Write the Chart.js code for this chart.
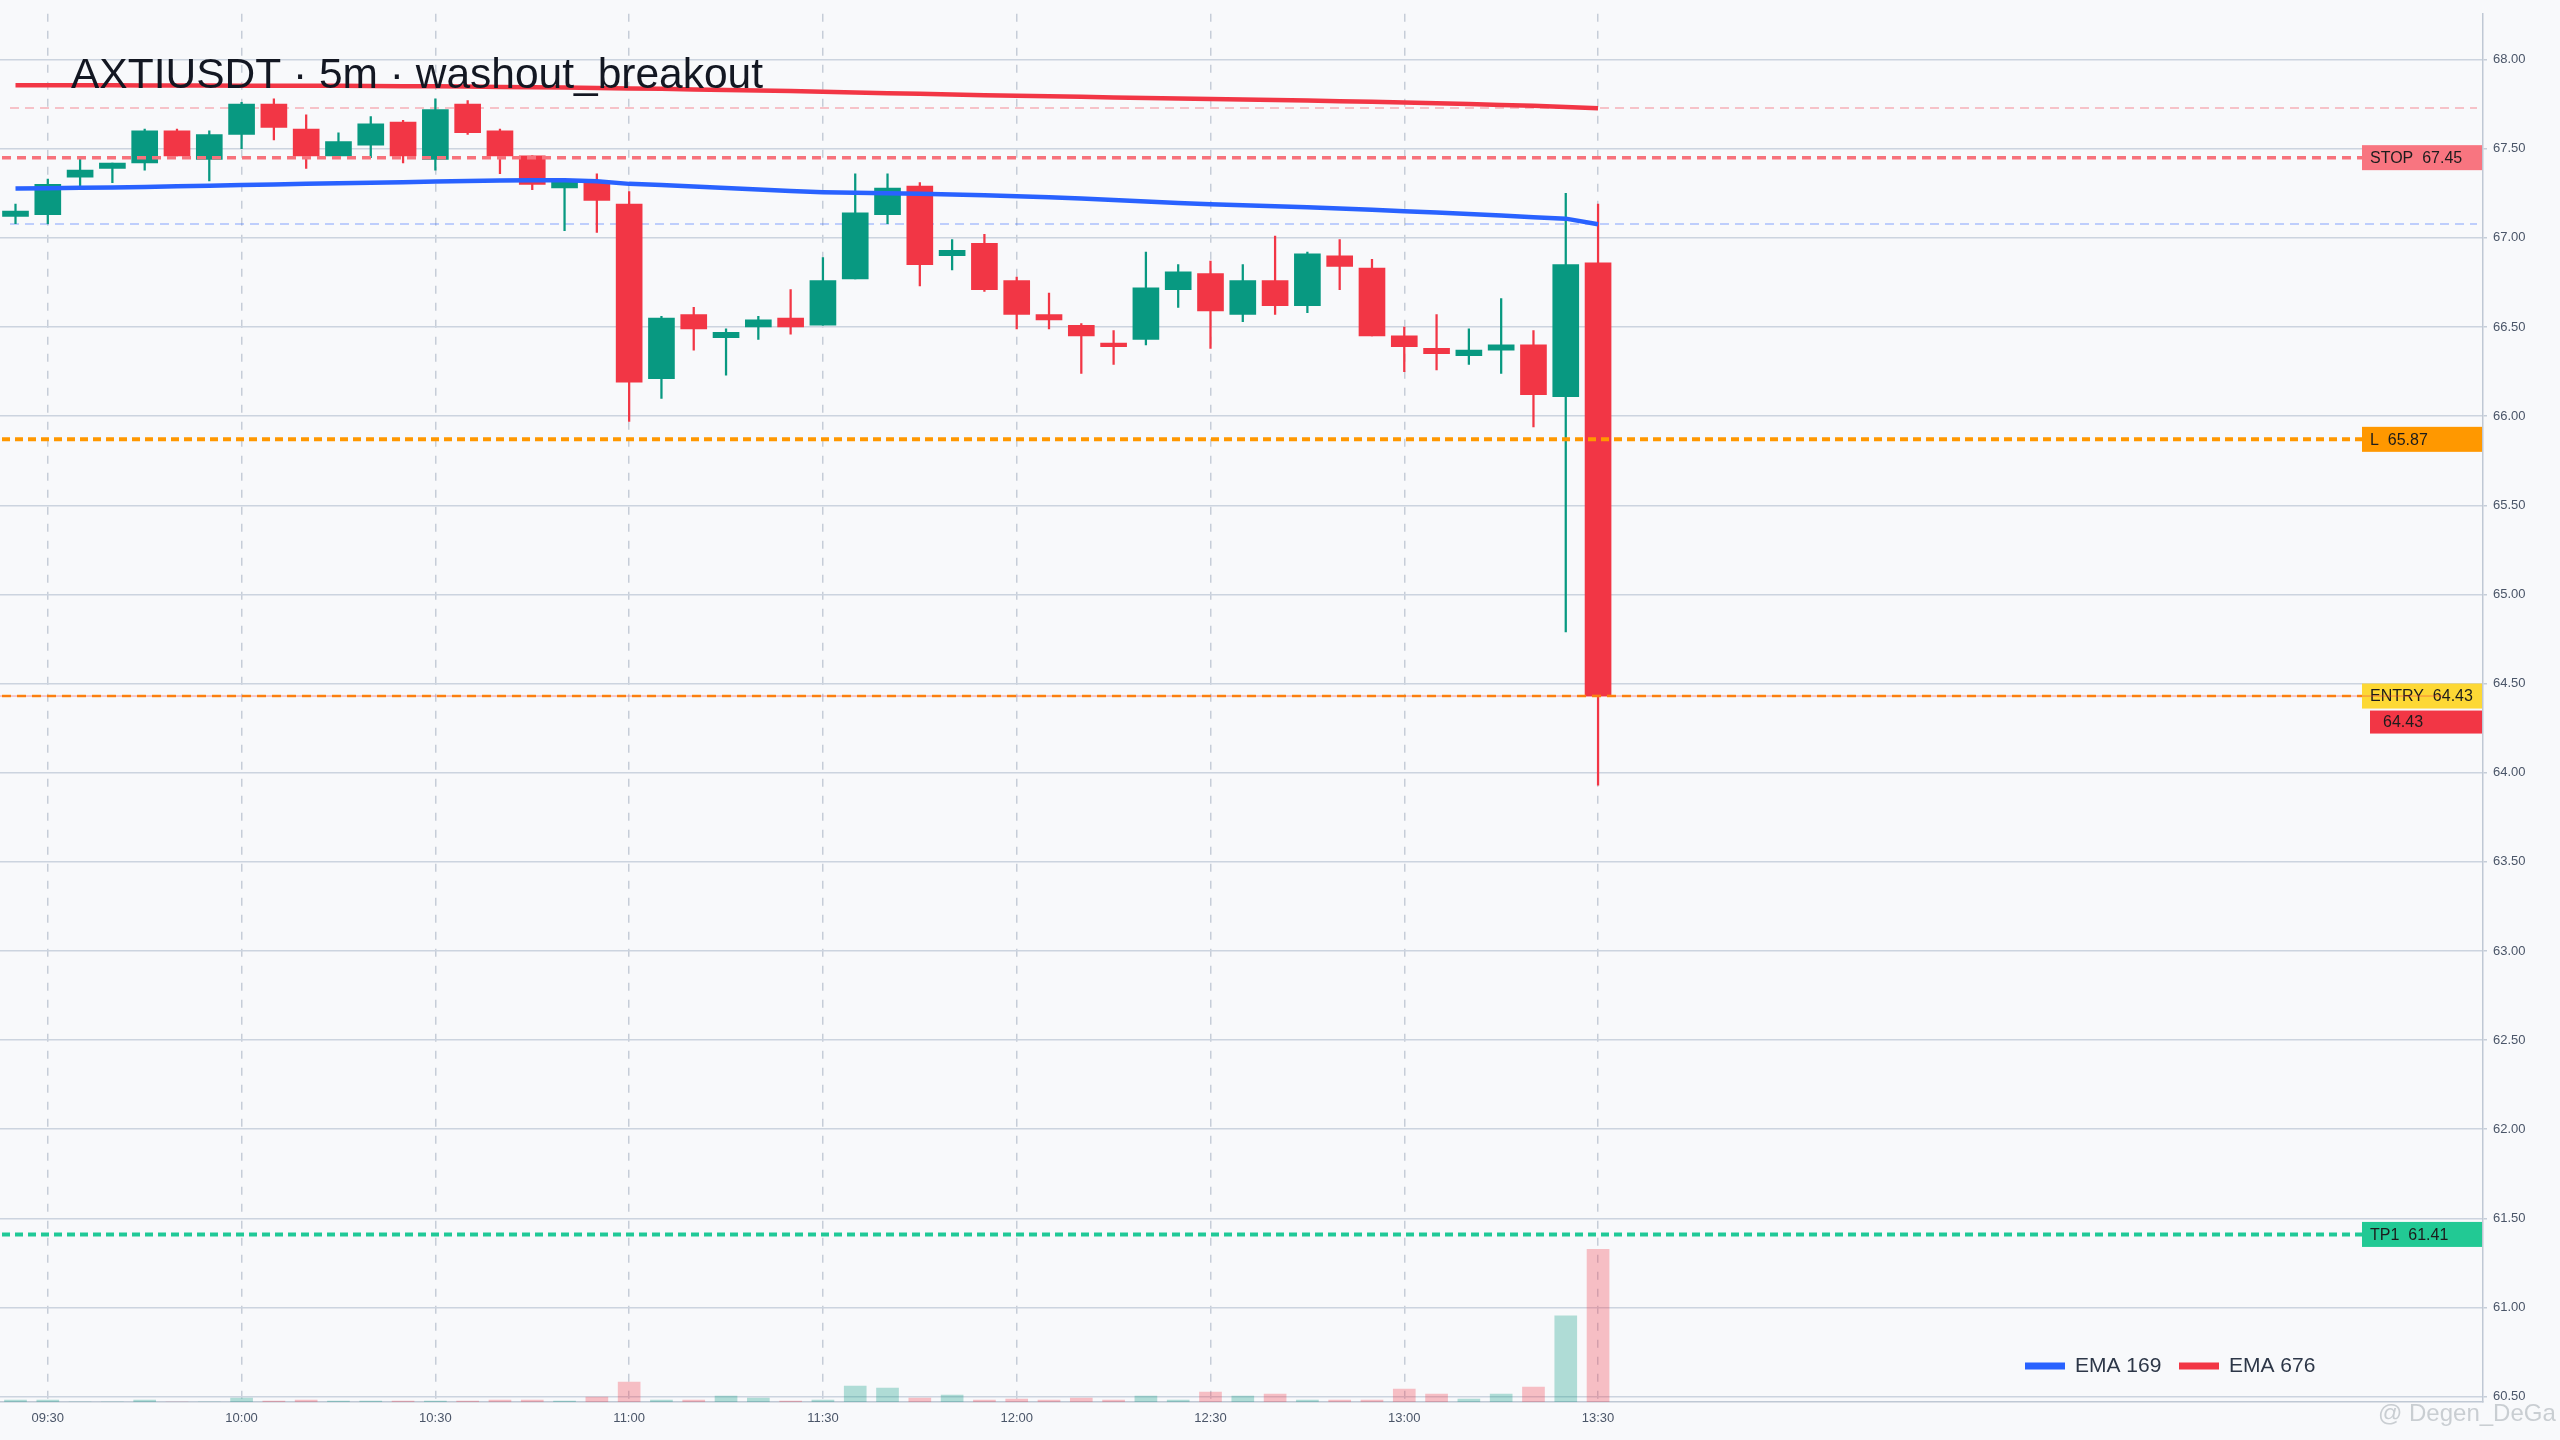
<!DOCTYPE html>
<html>
<head>
<meta charset="utf-8">
<title>AXTIUSDT · 5m · washout_breakout</title>
<script src="https://cdn.jsdelivr.net/npm/chart.js@4.4.1/dist/chart.umd.min.js"></script>
<style>
  html, body { margin: 0; padding: 0; background: #f8f9fb; }
  #wrap { position: relative; width: 2560px; height: 1440px; }
</style>
</head>
<body>
<div id="wrap"><canvas id="grafico"></canvas></div>
<script>
// velas de 5 minutos, 09:25 -> 13:30
const times = ['09:25','09:30','09:35','09:40','09:45','09:50','09:55','10:00','10:05','10:10',
  '10:15','10:20','10:25','10:30','10:35','10:40','10:45','10:50','10:55','11:00',
  '11:05','11:10','11:15','11:20','11:25','11:30','11:35','11:40','11:45','11:50',
  '11:55','12:00','12:05','12:10','12:15','12:20','12:25','12:30','12:35','12:40',
  '12:45','12:50','12:55','13:00','13:05','13:10','13:15','13:20','13:25','13:30'];

const opens = [67.12,67.13,67.34,67.39,67.42,67.60,67.44,67.58,67.75,67.61,
  67.46,67.52,67.65,67.44,67.75,67.60,67.46,67.28,67.31,67.19,
  66.21,66.57,66.44,66.50,66.55,66.51,66.77,67.13,67.29,66.90,
  66.97,66.76,66.57,66.51,66.41,66.43,66.71,66.80,66.57,66.76,
  66.62,66.90,66.83,66.45,66.38,66.34,66.37,66.40,66.11,66.86];
const highs = [67.19,67.33,67.44,67.42,67.61,67.61,67.60,67.76,67.78,67.69,
  67.59,67.68,67.66,67.78,67.77,67.61,67.46,67.33,67.36,67.26,
  66.56,66.61,66.49,66.56,66.71,66.89,67.36,67.36,67.31,66.99,
  67.02,66.78,66.69,66.52,66.48,66.92,66.85,66.87,66.85,67.01,
  66.92,66.99,66.88,66.50,66.57,66.49,66.66,66.48,67.25,67.19];
const lows = [67.08,67.08,67.29,67.31,67.38,67.46,67.32,67.50,67.55,67.39,
  67.46,67.45,67.42,67.38,67.58,67.36,67.27,67.04,67.03,65.97,
  66.10,66.37,66.23,66.43,66.46,66.51,66.77,67.08,66.73,66.82,
  66.70,66.49,66.49,66.24,66.29,66.40,66.61,66.38,66.53,66.57,
  66.58,66.71,66.45,66.25,66.26,66.29,66.24,65.94,64.79,63.93];
const closes = [67.15,67.30,67.38,67.42,67.60,67.46,67.58,67.75,67.62,67.46,
  67.54,67.64,67.46,67.72,67.59,67.46,67.30,67.32,67.21,66.19,
  66.55,66.49,66.47,66.54,66.50,66.76,67.14,67.28,66.85,66.93,
  66.71,66.57,66.54,66.45,66.39,66.72,66.81,66.59,66.76,66.62,
  66.91,66.84,66.45,66.39,66.35,66.37,66.40,66.12,66.85,64.43];
const volumes = [2,2,0,0,2,0,0,4,1,2,
  1,1,1,1,1,2,2,1,5,20,
  2,2,6,4,1,2,16,14,4,7,
  2,3,2,4,2,6,2,10,6,8,
  2,2,2,13,8,3,8,15,87,154];

const ema169 = [67.277,67.279,67.281,67.283,67.286,67.289,67.292,67.296,67.300,67.303,
  67.306,67.309,67.312,67.316,67.319,67.322,67.323,67.323,67.318,67.303,
  67.296,67.288,67.280,67.272,67.263,67.256,67.253,67.250,67.247,67.243,
  67.239,67.234,67.228,67.221,67.213,67.204,67.196,67.189,67.183,67.177,
  67.172,67.165,67.158,67.150,67.142,67.134,67.125,67.116,67.108,67.076];
const ema676 = [67.856,67.856,67.856,67.856,67.855,67.855,67.855,67.854,67.854,67.853,
  67.853,67.852,67.851,67.850,67.849,67.847,67.845,67.843,67.841,67.838,
  67.836,67.833,67.830,67.827,67.824,67.820,67.816,67.812,67.808,67.804,
  67.800,67.797,67.794,67.791,67.788,67.785,67.782,67.779,67.776,67.773,
  67.770,67.767,67.763,67.759,67.755,67.751,67.746,67.741,67.734,67.727];

const yTicks = [60.5,61.0,61.5,62.0,62.5,63.0,63.5,64.0,64.5,65.0,65.5,66.0,66.5,67.0,67.5,68.0];
const xTickIdx = [1,7,13,19,25,31,37,43,49];

const levelNames = ['STOP','L','ENTRY','TP1'];
const levelValues = [67.45, 65.87, 64.43, 61.41];

const titulo = 'AXTIUSDT · 5m · washout_breakout';
const lastPrice = closes[closes.length - 1];

// estilos
const VERDE = '#089981', ROJO = '#F23645';
const levelStyle = {
  STOP:  { line: '#f7727c', box: '#f87580', width: 3.5, dash: [9, 6] },
  L:     { line: '#ff9800', box: '#ff9800', width: 4, dash: [8, 5] },
  ENTRY: { line: '#ff9800', box: '#fdd835', width: 2.5, dash: [9, 6] },
  TP1:   { line: '#20c997', box: '#22c994', width: 4, dash: [8, 5] }
};
const SANS = "'Liberation Sans', Arial, sans-serif";

const colorVela = opens.map((o, i) => closes[i] >= o ? VERDE : ROJO);
const colorVol = opens.map((o, i) => closes[i] >= o ? 'rgba(8,153,129,0.3)' : 'rgba(242,54,69,0.3)');

const overlay = {
  id: 'overlay',
  beforeDatasetsDraw(chart) {
    const { ctx, chartArea: a, scales: { y } } = chart;
    ctx.save();
    ctx.lineWidth = 2;
    ctx.setLineDash([9, 6]);
    [[ema676, 'rgba(242,54,69,0.28)'], [ema169, 'rgba(41,98,255,0.28)']].forEach(([arr, col]) => {
      const py = Math.round(y.getPixelForValue(arr[arr.length - 1]));
      ctx.strokeStyle = col;
      ctx.beginPath(); ctx.moveTo(a.left + 10, py); ctx.lineTo(a.right - 6, py); ctx.stroke();
    });
    ctx.restore();
  },
  afterDatasetsDraw(chart) {
    const { ctx, chartArea: a, scales: { y } } = chart;
    const boxL = a.right - 121;
    ctx.save();
    levelNames.forEach((n, k) => {
      const st = levelStyle[n];
      const py = y.getPixelForValue(levelValues[k]);
      ctx.strokeStyle = st.line; ctx.lineWidth = st.width; ctx.setLineDash(st.dash);
      ctx.beginPath(); ctx.moveTo(a.left + 2, py); ctx.lineTo(boxL, py); ctx.stroke();
    });
    ctx.setLineDash([]);
    ctx.font = '16px ' + SANS;
    ctx.textBaseline = 'middle';
    let entryBottom = 0;
    levelNames.forEach((n, k) => {
      const st = levelStyle[n];
      const py = y.getPixelForValue(levelValues[k]);
      ctx.fillStyle = st.box;
      ctx.fillRect(boxL, py - 12.5, a.right - 1 - boxL, 25);
      ctx.fillStyle = '#1c1c1c';
      ctx.fillText(n + '  ' + levelValues[k].toFixed(2), boxL + 8, py + 1);
      if (n === 'ENTRY') entryBottom = py + 12.5;
    });
    // precio actual
    const pl = a.right - 113;
    ctx.fillStyle = ROJO;
    ctx.fillRect(pl, entryBottom + 2, a.right - 1 - pl, 23);
    ctx.fillStyle = '#1c1c1c';
    ctx.fillText(lastPrice.toFixed(2), pl + 13, entryBottom + 14.5);
    const lp = y.getPixelForValue(lastPrice);
    ctx.strokeStyle = 'rgba(242,54,69,0.5)'; ctx.lineWidth = 1;
    ctx.beginPath(); ctx.moveTo(a.left, lp); ctx.lineTo(a.right - 40, lp); ctx.stroke();
    ctx.restore();
  },
  afterDraw(chart) {
    const { ctx } = chart;
    ctx.save();
    ctx.fillStyle = '#131722';
    ctx.font = '42.5px ' + SANS;
    ctx.textBaseline = 'alphabetic';
    ctx.fillText(titulo, 71, 88);
    // leyenda
    ctx.font = '21px ' + SANS;
    ctx.textBaseline = 'middle';
    [['EMA 169', '#2962FF', 2025], ['EMA 676', ROJO, 2179]].forEach(([t, c, x0]) => {
      ctx.fillStyle = c;
      ctx.fillRect(x0, 1362.5, 40, 7);
      ctx.fillStyle = '#2d3748';
      ctx.fillText(t, x0 + 50, 1366);
    });
    ctx.font = '24px ' + SANS;
    ctx.fillStyle = 'rgba(170,176,184,0.6)';
    ctx.fillText('@ Degen_DeGa', 2378, 1414);
    ctx.restore();
  }
};

const grafico = document.getElementById('grafico').getContext('2d');

new Chart(grafico, {
  data: {
    datasets: [
      { type: 'line', label: 'EMA 169', data: ema169.map((v, i) => ({ x: i, y: v })),
        borderColor: '#2962FF', borderWidth: 4.5, pointRadius: 0, order: 1 },
      { type: 'line', label: 'EMA 676', data: ema676.map((v, i) => ({ x: i, y: v })),
        borderColor: ROJO, borderWidth: 4.5, pointRadius: 0, order: 2 },
      { type: 'bar', label: 'body', data: opens.map((o, i) => ({ x: i, y: [o, closes[i]] })),
        backgroundColor: colorVela, barThickness: 26, minBarLength: 2, grouped: false, order: 3 },
      { type: 'bar', label: 'wick', data: lows.map((l, i) => ({ x: i, y: [l, highs[i]] })),
        backgroundColor: colorVela, barThickness: 1.6, grouped: false, order: 4 },
      { type: 'bar', label: 'vol', yAxisID: 'vol', data: volumes.map((v, i) => ({ x: i, y: v })),
        backgroundColor: colorVol, barThickness: 22, grouped: false, order: 5 }
    ]
  },
  options: {
    responsive: true,
    maintainAspectRatio: false,
    animation: false,
    layout: { padding: 0 },
    plugins: { legend: { display: false }, tooltip: { enabled: false } },
    scales: {
      x: {
        type: 'linear', min: -0.48, max: 76.4, offset: false,
        afterFit(s) { s.height = 38; },
        afterBuildTicks(s) { s.ticks = xTickIdx.map(v => ({ value: v })); },
        ticks: { callback: v => times[v], color: '#4a5568', font: { family: SANS, size: 13 },
          padding: 9, maxRotation: 0, autoSkip: false },
        grid: { color: '#c6cdd8', lineWidth: 1.5, drawTicks: false, offset: false },
        border: { dash: [8, 9], color: '#bfc8d4', width: 1.5 }
      },
      y: {
        position: 'right', min: 60.47, max: 68.257,
        afterFit(s) { s.width = 77; },
        afterBuildTicks(s) { s.ticks = yTicks.map(v => ({ value: v })); },
        ticks: { callback: v => v.toFixed(2), color: '#4a5568', font: { family: SANS, size: 13 }, padding: 6 },
        grid: { color: '#ccd4df', lineWidth: 1.5, tickLength: 4, tickColor: '#c5cdd8' },
        border: { color: '#bfc8d4', width: 1.5 }
      },
      vol: {
        display: false, min: 0, max: Math.max(...volumes) / 0.11
      }
    }
  },
  plugins: [overlay]
});
</script>
</body>
</html>
